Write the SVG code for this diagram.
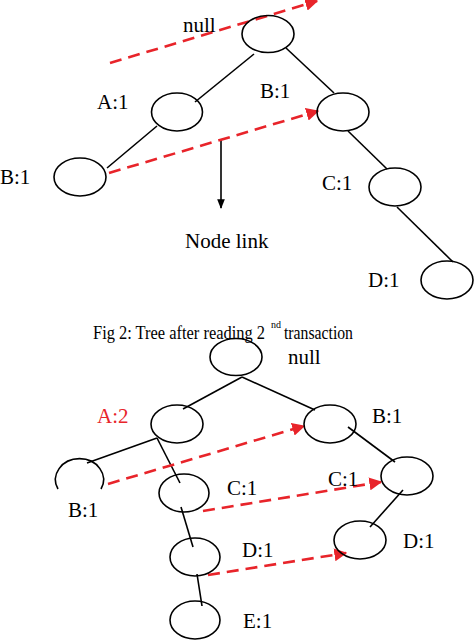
<svg xmlns="http://www.w3.org/2000/svg" width="474" height="641" viewBox="0 0 474 641">
<defs>
<style>
.n{fill:none;stroke:#000;stroke-width:1.6}
.e{stroke:#000;stroke-width:1.6;fill:none}
.r{stroke:#e8242a;stroke-width:2.6;fill:none;stroke-dasharray:12 7}
.t{font-family:"Liberation Serif","Times New Roman",serif;font-size:21px;fill:#000}
.c{font-size:18px}
.s{font-size:10px}
</style>
<marker id="ra" viewBox="0 0 10 10" refX="9" refY="5" markerWidth="5" markerHeight="5" orient="auto" markerUnits="strokeWidth">
<path d="M0,0 L10,5 L0,10 z" fill="#e8242a"/>
</marker>
<marker id="ba" viewBox="0 0 10 10" refX="9" refY="5" markerWidth="6" markerHeight="6" orient="auto" markerUnits="strokeWidth">
<path d="M0,1 L10,5 L0,9 z" fill="#000"/>
</marker>
</defs>
<rect width="474" height="641" fill="#fff"/>

<g id="connectors">
<line class="e" x1="254" y1="54" x2="195" y2="102"/>
<line class="e" x1="286" y1="48" x2="334" y2="93"/>
<line class="e" x1="157" y1="126" x2="107" y2="168"/>
<line class="e" x1="348" y1="131" x2="387" y2="169"/>
<line class="e" x1="397" y1="207" x2="453" y2="262"/>
<line class="e" x1="221" y1="140" x2="221" y2="208" marker-end="url(#ba)"/>
<line class="r" x1="110" y1="63" x2="317" y2="1" marker-end="url(#ra)"/>
<line class="r" x1="109" y1="173" x2="318" y2="111" marker-end="url(#ra)"/>

<line class="e" x1="242" y1="377" x2="183" y2="409"/>
<line class="e" x1="242" y1="377" x2="315" y2="410"/>
<line class="e" x1="157" y1="438" x2="87" y2="463"/>
<line class="e" x1="157" y1="438" x2="180" y2="483"/>
<line class="e" x1="181" y1="507" x2="193" y2="547"/>
<line class="e" x1="197" y1="574" x2="202" y2="606"/>
<line class="e" x1="348" y1="427" x2="395" y2="462"/>
<line class="e" x1="403" y1="490" x2="370" y2="527"/>
<line class="r" x1="108" y1="484" x2="304" y2="426" marker-end="url(#ra)"/>
<line class="r" x1="203" y1="511" x2="381" y2="482" marker-end="url(#ra)"/>
<line class="r" x1="208" y1="575" x2="346" y2="553" marker-end="url(#ra)"/>
</g>

<g id="top-null"><ellipse class="n" cx="268" cy="34" rx="26" ry="18.5"/><text class="t" x="183" y="32">null</text></g>
<g id="top-A1"><ellipse class="n" cx="177" cy="112" rx="25.5" ry="19"/><text class="t" x="97" y="109">A:1</text></g>
<g id="top-B1-right"><ellipse class="n" cx="343" cy="112" rx="26" ry="19"/><text class="t" x="260" y="98">B:1</text></g>
<g id="top-B1-left"><ellipse class="n" cx="80" cy="177" rx="26" ry="19"/><text class="t" x="0" y="184">B:1</text></g>
<g id="top-C1"><ellipse class="n" cx="395" cy="187" rx="26" ry="19"/><text class="t" x="322" y="190">C:1</text></g>
<g id="top-D1"><ellipse class="n" cx="447" cy="280" rx="26" ry="19"/><text class="t" x="368" y="287">D:1</text></g>
<g id="node-link-label"><text class="t" x="185" y="248">Node link</text></g>

<g id="caption">
<text class="t c" x="93" y="339" textLength="172" lengthAdjust="spacingAndGlyphs">Fig 2: Tree after reading 2</text>
<text class="t s" x="271" y="328">nd</text>
<text class="t c" x="284" y="339" textLength="69" lengthAdjust="spacingAndGlyphs">transaction</text>
</g>

<g id="bot-null"><ellipse class="n" cx="236" cy="357" rx="26" ry="18.5"/><text class="t" x="288" y="364">null</text></g>
<g id="bot-A2"><ellipse class="n" cx="177" cy="424" rx="26" ry="19"/><text class="t" x="97" y="423" style="fill:#e8242a">A:2</text></g>
<g id="bot-B1-right"><ellipse class="n" cx="330" cy="424" rx="26" ry="19"/><text class="t" x="372" y="423">B:1</text></g>
<g id="bot-B1-left"><path class="n" d="M58,489 A24,21 0 1 1 101,489"/><text class="t" x="68" y="517">B:1</text></g>
<g id="bot-C1-left"><ellipse class="n" cx="184" cy="493" rx="25" ry="19"/><text class="t" x="227" y="495">C:1</text></g>
<g id="bot-D1-left"><ellipse class="n" cx="195" cy="557" rx="25" ry="19"/><text class="t" x="242" y="557">D:1</text></g>
<g id="bot-E1"><ellipse class="n" cx="195" cy="620" rx="25" ry="19"/><text class="t" x="243" y="628">E:1</text></g>
<g id="bot-C1-right"><ellipse class="n" cx="407" cy="476" rx="26" ry="19"/><text class="t" x="328" y="486">C:1</text></g>
<g id="bot-D1-right"><ellipse class="n" cx="360" cy="540" rx="26" ry="19"/><text class="t" x="403" y="548">D:1</text></g>
</svg>
